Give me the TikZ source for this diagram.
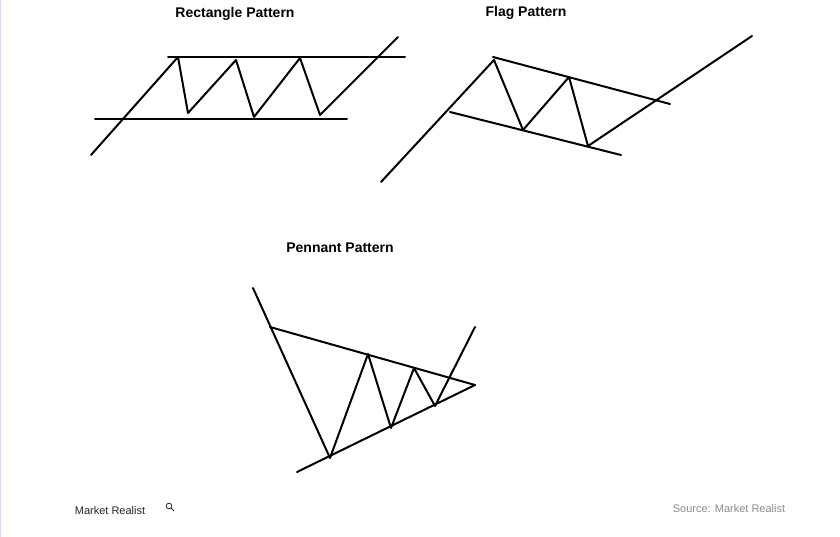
\documentclass[tikz,border=0pt]{standalone}
\usepackage{fontspec}
\setmainfont{Liberation Sans}
\begin{document}
\begin{tikzpicture}[x=1pt,y=-1pt,
  ln/.style={line width=2pt,line cap=round,line join=round},
  ttl/.style={font=\bfseries\fontsize{14}{16}\selectfont}]
\useasboundingbox[fill=white] (0,0) rectangle (840,537);
\draw[blue!15] (0.5,0) -- (0.5,537);
% Rectangle
\coordinate (r1) at (168,57); \coordinate (r2) at (405,57);
\coordinate (r3) at (95,119); \coordinate (r4) at (347,119);
\draw[ln] (r1) -- (r2); \draw[ln] (r3) -- (r4);
\coordinate (ra) at (91,155); \coordinate (rb) at (178,57);
\coordinate (rc) at (188,113); \coordinate (rd) at (236,60);
\coordinate (re) at (254,117); \coordinate (rf) at (300,58);
\coordinate (rg) at (320,115); \coordinate (rh) at (398,37);
\draw[ln] (ra)--(rb)--(rc)--(rd)--(re)--(rf)--(rg)--(rh);
\node[ttl] (t1) at (235,14) {Rectangle Pattern};
% Flag
\coordinate (f1) at (493,57); \coordinate (f2) at (670,104);
\coordinate (f3) at (450,112); \coordinate (f4) at (621,155);
\draw[ln] (f1)--(f2); \draw[ln] (f3)--(f4);
\coordinate (fa) at (381,182); \coordinate (fb) at (494,60);
\coordinate (fc) at (523,130); \coordinate (fd) at (569,77);
\coordinate (fe) at (588,146); \coordinate (ff) at (752,36);
\draw[ln] (fa)--(fb)--(fc)--(fd)--(fe)--(ff);
\node[ttl] (t2) at (526,13) {Flag Pattern};
% Pennant
\coordinate (p1) at (270,327); \coordinate (p2) at (475,385);
\coordinate (p3) at (297,472);
\draw[ln] (p1)--(p2); \draw[ln] (p3)--(p2);
\coordinate (pa) at (253,288); \coordinate (pb) at (330,458);
\coordinate (pc) at (368,354); \coordinate (pd) at (391,428);
\coordinate (pe) at (414,368); \coordinate (pf) at (435,406);
\coordinate (pg) at (475,327);
\draw[ln] (pa)--(pb)--(pc)--(pd)--(pe)--(pf)--(pg);
\node[ttl] (t3) at (340,248) {Pennant Pattern};
% footer
\node[font=\fontsize{11}{13}\selectfont,text=black!85] (mr) at (110,511) {Market Realist};
\draw[black!85,line width=0.8pt] (169,506) circle (2.8);
\draw[black!85,line width=1pt] (171,508) -- (174,511);
\node[font=\fontsize{11}{13}\selectfont,text=black!45] (src) at (729,509) {Source: Market Realist};
\end{tikzpicture}
\end{document}
